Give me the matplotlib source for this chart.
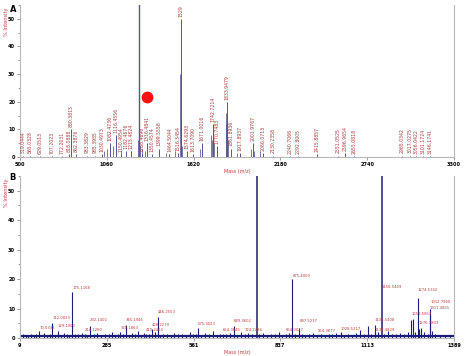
import matplotlib
matplotlib.use("Agg")
import matplotlib.pyplot as plt
from matplotlib.ticker import MultipleLocator

# ---------------- Panel A data ----------------
A_lab_mass = [519.0444, 565.0328, 629.0513, 707.2023, 772.2031, 818.0888, 830.3815, 862.3876,
              933.3829, 985.3985, 1030.4973, 1082.4736, 1116.4556, 1150.4954, 1182.4676,
              1215.4824, 1288.4696, 1316.4841, 1350.4574, 1399.5558, 1464.5044, 1516.5454,
              1535.7, 1574.6293, 1613.7090, 1671.0016, 1742.7214, 1770.7483, 1833.9479,
              1861.8936, 1917.8937, 2001.9767, 2066.0713, 2130.2358, 2240.7066, 2292.8005,
              2415.8857, 2551.0525, 2596.9654, 2655.0818, 2965.0342, 3017.0275, 3056.0422,
              3101.1724, 3146.1741]
A_lab_int = [0.5, 0.5, 0.4, 0.3, 0.3, 1.0, 10.0, 1.0,
             0.5, 0.5, 1.0, 5.0, 8.0, 1.0, 2.0,
             2.0, 1.0, 5.0, 1.0, 3.0, 1.0, 1.5,
             50.0, 2.0, 1.0, 5.0, 12.0, 4.0, 20.0,
             3.0, 1.5, 5.0, 1.5, 0.5, 0.3, 0.3,
             1.0, 0.5, 1.5, 0.3, 0.5, 0.5, 0.4,
             0.4, 0.4]
A_big_mass = [1267.4496]
A_big_int = [100.0]
A_small_mass = [1040, 1062, 1097, 1150, 1262, 1272, 1290, 1305, 1440, 1500, 1530, 1538, 1545,
                1660, 1735, 1738, 1746, 1752, 1826, 1830, 1838, 1845, 1900, 1990, 2008, 2050]
A_small_int = [2, 3, 4, 2, 6, 4, 3, 2, 1.5, 2, 30, 15, 4,
               3, 8, 6, 9, 5, 12, 16, 9, 6, 1.5, 3, 2, 2]
A_marker = (1322, 21.8)
A_xticks = [500, 1060, 1620, 2180, 2740, 3300]

# ---------------- Panel B data ----------------
B_lab_mass = [70.0332, 112.0023, 129.1002, 175.1168, 214.1280, 232.1402, 328.1863, 345.1946,
              410.2464, 428.2279, 446.2553, 575.3023, 654.3845, 689.3602, 724.2484,
              854.3027, 875.4003, 897.5237, 954.3877, 1028.5217, 1136.5408, 1137.4829,
              1253.5853, 1274.5342, 1276.7833, 1312.7960, 1311.4855]
B_lab_int = [2.5, 5.0, 2.5, 15.5, 1.5, 4.0, 2.0, 4.5,
             1.5, 3.0, 7.0, 3.5, 1.5, 4.0, 1.5,
             1.5, 20.0, 3.5, 1.0, 2.0, 4.5, 2.0,
             6.0, 13.5, 3.0, 10.0, 8.0]
B_lab_y = [2.8, 6.0, 3.3, 16.3, 2.0, 5.4, 2.6, 5.6,
           1.9, 3.8, 8.0, 4.0, 2.0, 5.0, 2.0,
           2.2, 20.5, 5.2, 1.8, 2.5, 5.4, 2.2,
           7.3, 15.5, 4.4, 11.7, 9.4]
B_big_mass = [761.9, 1158.5449]
B_big_int = [100.0, 100.0]
B_big_lab_y = [None, 16.5]
B_small_mass = [18, 27, 35, 44, 52, 61, 85, 96, 104, 120, 140, 150, 158, 165, 185, 195, 205,
                222, 245, 255, 268, 280, 292, 300, 312, 320, 336, 356, 365, 375, 385, 395,
                402, 418, 438, 455, 465, 478, 490, 500, 512, 525, 538, 548, 558, 568, 585,
                598, 610, 622, 635, 645, 665, 676, 700, 712, 735, 748, 770, 782, 795, 808,
                820, 832, 842, 865, 885, 905, 915, 928, 940, 965, 978, 990, 1002, 1015,
                1040, 1052, 1065, 1078, 1090, 1102, 1114, 1125, 1148, 1168, 1180, 1192,
                1205, 1218, 1230, 1243, 1258, 1265, 1285, 1295, 1305, 1320, 1330, 1345,
                1360, 1375]
B_small_int = [1.2, 0.8, 1.0, 1.5, 0.9, 1.3, 1.8, 1.0, 1.4, 1.1, 0.9, 1.6, 1.2, 1.0, 1.5,
               1.2, 1.8, 1.1, 1.3, 1.7, 1.0, 1.4, 1.2, 2.0, 1.1, 1.5, 1.3, 1.0, 1.6, 1.2,
               2.4, 1.1, 1.8, 1.4, 2.2, 1.0, 1.5, 1.3, 1.1, 1.7, 1.2, 1.4, 1.0, 2.2, 1.3,
               1.5, 1.0, 1.8, 1.3, 2.4, 1.0, 1.4, 1.2, 1.6, 1.1, 2.0, 1.7, 1.3, 1.2, 1.6,
               1.0, 1.3, 1.5, 2.2, 1.1, 1.6, 1.2, 1.4, 1.0, 1.3, 1.8, 1.2, 1.0, 1.5, 1.2,
               1.8, 1.1, 1.3, 1.0, 1.6, 2.8, 1.2, 4.0, 1.5, 2.0, 1.3, 2.5, 1.2, 1.5, 1.7,
               1.3, 2.0, 6.5, 2.2, 3.5, 2.0, 1.5, 2.4, 1.2, 1.0, 0.8, 0.8]
B_baseline = 0.6
B_xticks = [9, 285, 561, 837, 1113, 1389]

YTICKS = [0, 10, 20, 30, 40, 50]
YMAX = 55

RED_A = "#a83c3c"
RED_B = "#c0393b"
SPEC_A = "#55558f"
SPEC_B = "#1c1c78"
AXC = "#b8b8b8"

fig = plt.figure(figsize=(4.74, 3.56), dpi=100)
axA = fig.add_axes([20/474, 1-157/356, 434/474, 152/356])
axB = fig.add_axes([20/474, 1-338/356, 434/474, 162/356])


def style(ax, xt, xlim):
    ax.set_xlim(*xlim)
    ax.set_ylim(0, YMAX)
    ax.set_xticks(xt)
    ax.set_yticks(YTICKS)
    ax.yaxis.set_minor_locator(MultipleLocator(5))
    ax.spines["top"].set_visible(False)
    for s in ["left", "bottom", "right"]:
        ax.spines[s].set_color(AXC)
        ax.spines[s].set_linewidth(0.8)
    ax.tick_params(axis="both", which="both", colors="#777777", labelcolor="black",
                   labelsize=3.6, length=2, width=0.5, pad=1.5)
    ax.tick_params(axis="y", which="minor", length=1.2)
    for lab in ax.get_xticklabels() + ax.get_yticklabels():
        lab.set_fontweight("bold")
    ax.set_xlabel("Mass (m/z)", color=RED_B, fontsize=3.5, labelpad=1.5)
    ax.text(-0.03, 0.985, "% Intensity", transform=ax.transAxes, rotation=90,
            color=RED_B, fontsize=3.6, ha="center", va="top")


# Panel A
style(axA, A_xticks, (A_xticks[0], A_xticks[-1]))
axA.vlines(A_small_mass, 0, A_small_int, color=SPEC_A, lw=0.7, alpha=0.8)
axA.vlines(A_lab_mass, 0, A_lab_int, color=SPEC_A, lw=0.7)
axA.vlines(A_big_mass, 0, A_big_int, color=SPEC_A, lw=1.0)
for m, h in zip(A_lab_mass, A_lab_int):
    axA.text(m, h + 0.8, f"{m:.4f}" if m != 1535.7 else "1529", rotation=90, color=RED_A,
             fontsize=3.3, ha="center", va="bottom")
axA.plot([A_marker[0]], [A_marker[1]], "o", color="#ff1010", ms=7.5, mec="#ff1010")
fig.text(13/474, 1-10/356, "A", fontsize=6, fontweight="bold", ha="center", va="center")

# Panel B
style(axB, B_xticks, (B_xticks[0], B_xticks[-1]))
axB.plot([B_xticks[0], B_xticks[-1]], [B_baseline, B_baseline], color=SPEC_B, lw=1.6)
axB.vlines(B_small_mass, 0, B_small_int, color=SPEC_B, lw=0.8)
axB.vlines(B_lab_mass, 0, B_lab_int, color=SPEC_B, lw=0.8)
axB.vlines(B_big_mass, 0, B_big_int, color=SPEC_B, lw=1.1)
for m, y in zip(B_lab_mass, B_lab_y):
    axB.text(m, y, f"{m:.4f}", color=RED_B, fontsize=2.7, ha="left", va="bottom")
for m, y in zip(B_big_mass, B_big_lab_y):
    if y is not None:
        axB.text(m, y, f"{m:.4f}", color=RED_B, fontsize=2.7, ha="left", va="bottom")
fig.text(12/474, 1-178/356, "B", fontsize=6, fontweight="bold", ha="center", va="center")

fig.savefig("out.png", dpi=100)
